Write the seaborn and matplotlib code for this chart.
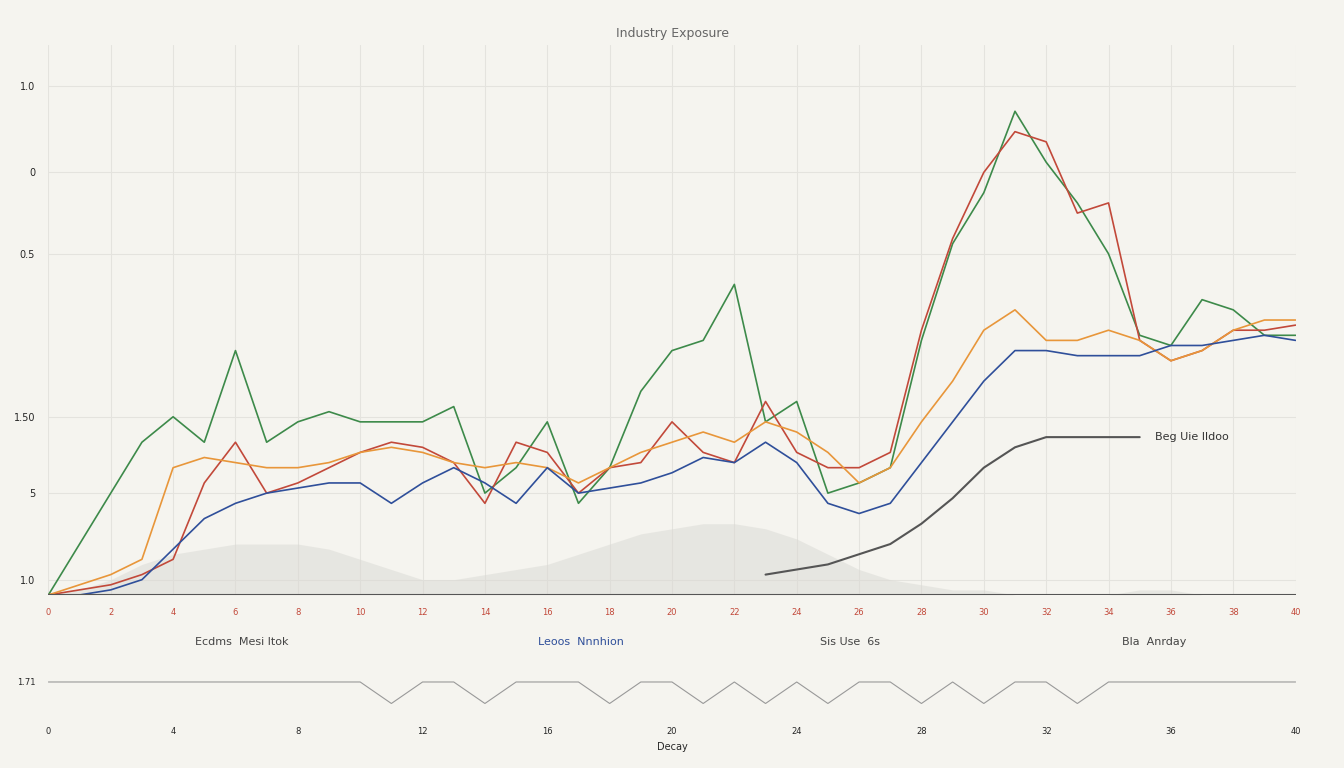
import numpy as np
import matplotlib
matplotlib.use("Agg")
import matplotlib.pyplot as plt
import seaborn as sns

sns.set_theme(style="whitegrid")
plt.rcParams['font.family'] = ['DejaVu Sans']

steps = list(range(41))
green = [0,10,20,30,35,30,48,30,34,36,34,34,34,37,20,25,34,18,25,40,48,50,61,34,38,20,22,25,50,69,79,95,85,77,67,51,49,58,56,51,51]
red = [0,1,2,4,7,22,30,20,22,25,28,30,29,26,18,30,28,20,25,26,34,28,26,38,28,25,25,28,52,70,83,91,89,75,77,50,46,48,52,52,53]
orange = [0,2,4,7,25,27,26,25,25,26,28,29,28,26,25,26,25,22,25,28,30,32,30,34,32,28,22,25,34,42,52,56,50,50,52,50,46,48,52,54,54]
blue = [0,0,1,3,9,15,18,20,21,22,22,18,22,25,22,18,25,20,21,22,24,27,26,30,26,18,16,18,26,34,42,48,48,47,47,47,49,49,50,51,50]
trend = [np.nan]*23 + [4,5,6,8,10,14,19,25,29,31,31,31,31] + [np.nan]*5
hills = [0,1,3,6,8,9,10,10,10,9,7,5,3,3,4,5,6,8,10,12,13,14,14,13,11,8,5,3,2,1,1,0,0,0,0,1,1,0,0,0,0]
lower = [0,0,0,0,0,0,0,0,0,0,0,-1,0,0,-1,0,0,0,-1,0,0,-1,0,-1,0,-1,0,0,-1,0,-1,0,0,-1,0,0,0,0,0,0,0]

fig = plt.figure(figsize=(13.44, 7.68), dpi=100, facecolor="#f5f4ef")
ax = fig.add_axes([0.036, 0.2253, 0.928, 0.716], facecolor="#f5f4ef")
ax.fill_between(steps, hills, color="#d9d9d4", alpha=0.5, lw=0)
for vals, col in [(green, "#3d8a4a"), (red, "#c2493a"), (orange, "#e8963a"), (blue, "#2f4f9a")]:
    sns.lineplot(x=steps, y=vals, ax=ax, color=col, lw=1.2)
sns.lineplot(x=steps, y=trend, ax=ax, color="#555555", lw=1.5)
ax.axhline(0, color="#555555", lw=1.5)
ax.text(35.5, 31, "Beg Uie Ildoo", fontsize=8, va="center", color="#333333")
ax.set_xlim(0, 40)
ax.set_ylim(0, 108)
ax.set_yticks([3, 20, 35, 67, 83, 100])
ax.set_yticklabels(["1.0", "5", "1.50", "0.5", "0", "1.0"], fontsize=7)
ax.set_xticks(range(0, 41, 2))
ax.tick_params(axis="x", labelsize=6, colors="#c2493a")
ax.grid(color="#e4e3de", lw=0.8)
for s in ax.spines.values():
    s.set_visible(False)
ax.set_title("Industry Exposure", fontsize=9, color="#666666")

fig.text(0.145, 0.16, "Ecdms  Mesi ltok", fontsize=8, color="#444444")
fig.text(0.40, 0.16, "Leoos  Nnnhion", fontsize=8, color="#2f4f9a")
fig.text(0.61, 0.16, "Sis Use  6s", fontsize=8, color="#444444")
fig.text(0.835, 0.16, "Bla  Anrday", fontsize=8, color="#444444")

ax2 = fig.add_axes([0.036, 0.07, 0.928, 0.07], facecolor="#f5f4ef")
sns.lineplot(x=steps, y=lower, ax=ax2, color="#999999", lw=0.8)
ax2.set_xlim(0, 40)
ax2.set_ylim(-1.5, 1)
ax2.set_yticks([0])
ax2.set_yticklabels(["1.71"], fontsize=6)
ax2.set_xticks(range(0, 41, 4))
ax2.tick_params(labelsize=6)
ax2.set_xlabel("Decay", fontsize=7)
ax2.grid(False)
for s in ax2.spines.values():
    s.set_visible(False)

fig.savefig("out.png", dpi=100, facecolor=fig.get_facecolor())
